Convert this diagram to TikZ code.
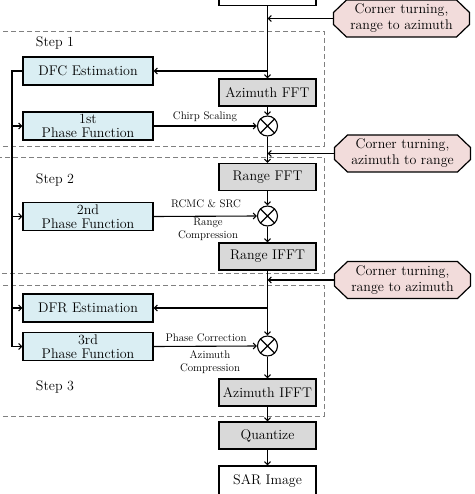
\documentclass[tikz,border=0pt]{standalone}
\usetikzlibrary{arrows.meta}
\definecolor{bfill}{HTML}{DAEEF3}
\definecolor{gfill}{HTML}{D9D9D9}
\definecolor{pfill}{HTML}{F2DCDB}
\definecolor{dgray}{HTML}{808080}
\tikzset{
  every node/.style={font=\fontsize{14}{15}\selectfont},
  base/.style={draw, line width=1.2pt, inner sep=0pt, align=center},
  wbox/.style={base, fill=white, minimum width=97pt, minimum height=27pt},
  gbox/.style={base, fill=gfill, minimum width=97pt, minimum height=27pt},
  bbox/.style={base, fill=bfill, minimum width=130pt, minimum height=28pt, font=\fontsize{14}{14}\selectfont},
  ctxt/.style={inner sep=0pt, align=center, minimum width=136pt, minimum height=37pt, font=\fontsize{14}{16}\selectfont},
  ctshape/.style={draw, fill=pfill, line width=1.2pt},
  mult/.style={draw, line width=1.1pt, circle, minimum size=20pt, inner sep=0pt, fill=white,
    path picture={\draw[line width=1.1pt] (path picture bounding box.north west) -- (path picture bounding box.south east)
      (path picture bounding box.north east) -- (path picture bounding box.south west);}},
  arr/.style={line width=1.1pt, -{Straight Barb[length=3pt,width=6pt]}},
  ln/.style={line width=1.1pt},
  lbl/.style={font=\fontsize{11}{12}\selectfont, inner sep=0pt},
  stp/.style={font=\fontsize{14}{15}\selectfont, inner sep=0pt},
  dbox/.style={draw=dgray, line width=0.9pt, dash pattern=on 5pt off 3pt}
}
\newcommand{\octa}[1]{%
  \draw[ctshape] ([shift={(-68,-6)}]#1) -- ([shift={(-55,-18.5)}]#1) -- ([shift={(55,-18.5)}]#1)
    -- ([shift={(68,-6)}]#1) -- ([shift={(68,6)}]#1) -- ([shift={(55,18.5)}]#1)
    -- ([shift={(-55,18.5)}]#1) -- ([shift={(-68,6)}]#1) -- cycle;}
\begin{document}
\begin{tikzpicture}[x=1pt,y=-1pt]
\useasboundingbox (0,0) rectangle (474,494);
% dashed step boxes
\draw[dbox] (-2,31) rectangle (324,146);
\draw[dbox] (-2,157) rectangle (324,273);
\draw[dbox] (-2,285) rectangle (324,416);
\node[stp] (s1) at (55,43) {Step 1};
\node[stp] (s2) at (55,180) {Step 2};
\node[stp] (s3) at (55,387) {Step 3};
% main chain
\node[wbox] (src) at (267.5,-8) {};
\node[gbox] (azfft) at (267.5,92.5) {Azimuth FFT};
\node[mult] (m1) at (267.5,126) {};
\node[gbox] (rfft) at (267.5,177) {Range FFT};
\node[mult] (m2) at (267.5,216) {};
\node[gbox] (rifft) at (267.5,256.5) {Range IFFT};
\node[mult] (m3) at (267.5,346) {};
\node[gbox] (aifft) at (267.5,392.5) {Azimuth IFFT};
\node[gbox] (quant) at (267.5,435.5) {Quantize};
\node[wbox, minimum height=30pt] (sar) at (267.5,481) {SAR Image};
% corner turning
\coordinate (c1) at (401.5,18.5);
\coordinate (c2) at (402.5,153.5);
\coordinate (c3) at (402.5,280);
\octa{c1}
\octa{c2}
\octa{c3}
\node[ctxt] (ct1) at (c1) {Corner turning,\\range to azimuth};
\node[ctxt] (ct2) at (c2) {Corner turning,\\azimuth to range};
\node[ctxt] (ct3) at (c3) {Corner turning,\\range to azimuth};
% left blocks
\node[bbox] (dfc) at (88,71) {DFC Estimation};
\node[bbox] (ph1) at (88,126) {1st\\Phase Function};
\node[bbox] (ph2) at (88,216.5) {2nd\\Phase Function};
\node[bbox] (dfr) at (88,308) {DFR Estimation};
\node[bbox] (ph3) at (88,346.5) {3rd\\Phase Function};
% coordinates
\coordinate (j1) at (267.5,18.5);
\coordinate (j2) at (267.5,71);
\coordinate (j3) at (267.5,153.5);
\coordinate (j4) at (267.5,280);
\coordinate (j5) at (267.5,308);
\coordinate (b0) at (12,71);
\coordinate (b1) at (12,126);
\coordinate (b2) at (12,216.5);
\coordinate (b3) at (12,308);
\coordinate (b4) at (12,346.5);
% main connectors
\draw[arr] (src.south) -- (azfft.north);
\draw[arr] (ct1.west) -- (j1);
\draw[arr] (j2) -- (dfc.east);
\draw[arr] (azfft.south) -- (m1.north);
\draw[arr] (m1.south) -- (rfft.north);
\draw[arr] (ct2.west) -- (j3);
\draw[arr] (rfft.south) -- (m2.north);
\draw[arr] (m2.south) -- (rifft.north);
\draw[arr] (rifft.south) -- (m3.north);
\draw[arr] (ct3.west) -- (j4);
\draw[arr] (j5) -- (dfr.east);
\draw[arr] (m3.south) -- (aifft.north);
\draw[arr] (aifft.south) -- (quant.north);
\draw[arr] (quant.south) -- (sar.north);
% phase functions to multipliers
\draw[arr] (ph1.east) -- (m1.west);
\draw[arr] (ph2.east) -- (m2.west);
\draw[arr] (ph3.east) -- (m3.west);
% left bus
\draw[ln] (dfc.west) -- (b0) -- (b4);
\draw[arr] (b1) -- (ph1.west);
\draw[arr] (b2) -- (ph2.west);
\draw[arr] (b3) -- (dfr.west);
\draw[arr] (b4) -- (ph3.west);
% labels
\node[lbl] (l1) at (205,117) {Chirp Scaling};
\node[lbl] (l2) at (206,204) {RCMC \& SRC};
\node[lbl, align=center, font=\fontsize{11}{13}\selectfont] (l3) at (208,229.5) {Range\\Compression};
\node[lbl] (l4) at (206,337.5) {Phase Correction};
\node[lbl, align=center, font=\fontsize{11}{13}\selectfont] (l5) at (210,362) {Azimuth\\Compression};
\end{tikzpicture}
\end{document}
